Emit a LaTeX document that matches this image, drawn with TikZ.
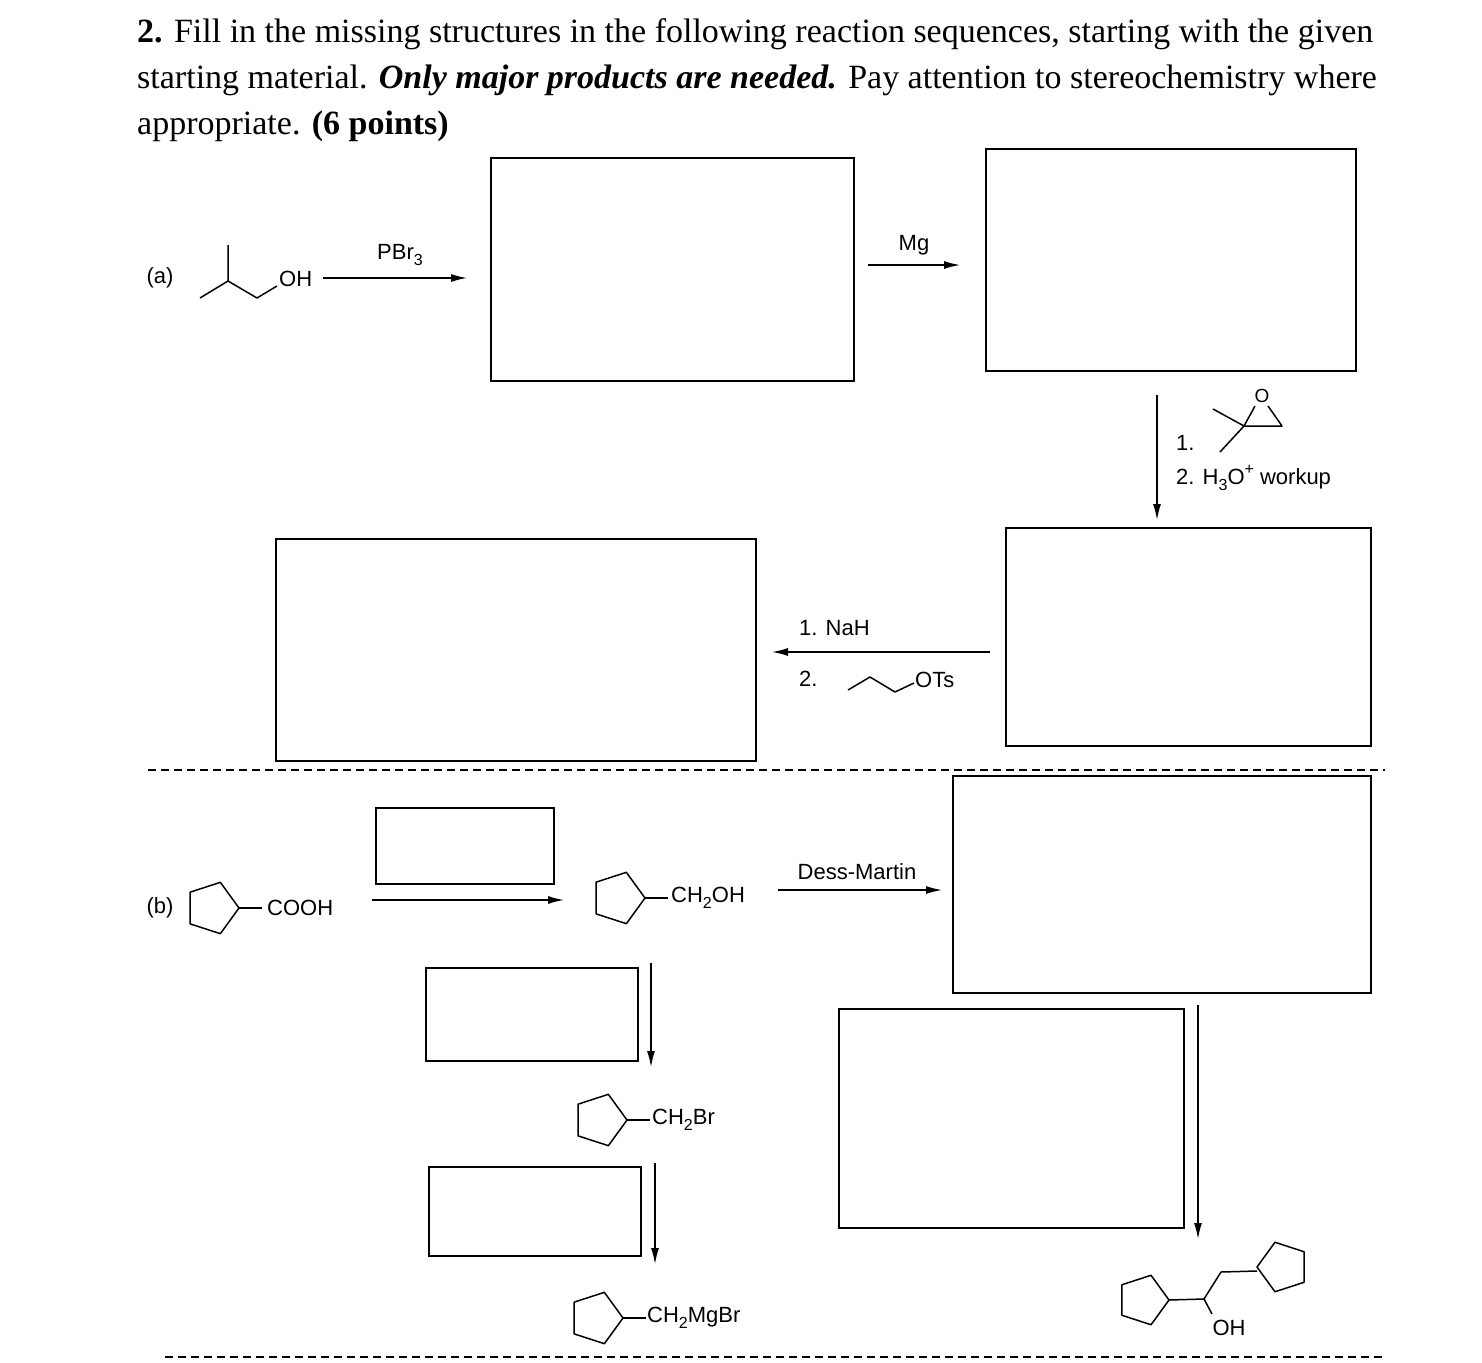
\documentclass[tikz,border=0pt]{standalone}
\usepackage{fontspec}
\usetikzlibrary{arrows.meta}
\setmainfont{Liberation Serif}
\newfontfamily\lab{Liberation Sans}
\newcommand\pentA[3]{\draw[bond,shift={(#1,#2)}] (0:#3)--(72:#3)--(144:#3)--(216:#3)--(288:#3)--cycle;}
\newcommand\pentB[3]{\draw[bond,shift={(#1,#2)}] (36:#3)--(108:#3)--(180:#3)--(252:#3)--(324:#3)--cycle;}
\newcommand\sub[1]{\raisebox{-0.25em}{\fontsize{16}{18}\selectfont #1}}
\newcommand\supr[1]{\raisebox{0.45em}{\fontsize{16}{18}\selectfont #1}}
\begin{document}
\begin{tikzpicture}[x=1pt,y=-1pt,
  box/.style={draw,line width=1.6pt},
  bond/.style={line width=1.5pt,line join=round},
  arr/.style={line width=1.4pt,-{Latex[length=16pt,width=8pt]}},
  lbl/.style={font=\lab\fontsize{22}{26}\selectfont,inner sep=1pt},
  dashline/.style={line width=1.3pt,dash pattern=on 8pt off 5pt}]
\useasboundingbox[fill=white] (0,0) rectangle (1482,1362);
\node[anchor=north west,align=left,font=\fontsize{34}{46}\selectfont,inner sep=0pt] (title) at (137,18)
{\textbf{2.} Fill in the missing structures in the following reaction sequences, starting with the given\\ starting material. \textbf{\textit{Only major products are needed.}} Pay attention to stereochemistry where\\ appropriate. \textbf{(6 points)}};
% (a)
\node[lbl] (la) at (160,278) {(a)};
\draw[bond] (200,298)--(228,281)--(228,245);
\draw[bond] (228,281)--(257,298)--(277,286);
\node[lbl,anchor=west] (oh) at (278,279) {OH};
\coordinate (p1) at (323,278); \coordinate (p2) at (467,278);
\draw[arr] (p1)--(p2);
\node[lbl] (pbr) at (400,255) {PBr\sub{3}};
\node[box,minimum width=363pt,minimum height=223pt,anchor=north west] (A1) at (490,157) {};
\coordinate (m1) at (868,265); \coordinate (m2) at (960,265);
\draw[arr] (m1)--(m2) node[lbl,midway,above=8pt] {Mg};
\node[box,minimum width=370pt,minimum height=222pt,anchor=north west] (A2) at (985,148) {};
\coordinate (d1) at (1157,395); \coordinate (d2) at (1157,520);
\draw[arr] (d1)--(d2);
\node[lbl,anchor=west] (r1) at (1175,443) {1.};
\draw[bond] (1213,409)--(1244,426)--(1220,452);
\draw[bond] (1244,426)--(1282,426)--(1268,406);
\draw[bond] (1244,426)--(1255,406);
\node[lbl,font=\lab\fontsize{19}{22}\selectfont] (eo) at (1262,396) {O};
\node[lbl,anchor=west] (r2) at (1175,478) {2. H\sub{3}O\supr{+} workup};
\node[box,minimum width=365pt,minimum height=218pt,anchor=north west] (A3) at (1005,527) {};
\coordinate (n1) at (990,652); \coordinate (n2) at (772,652);
\draw[arr] (n1)--(n2);
\node[lbl,anchor=west] (nah) at (798,628) {1. NaH};
\node[lbl,anchor=west] (n2l) at (798,679) {2.};
\draw[bond] (848,690)--(870,677)--(895,692)--(914,683);
\node[lbl,anchor=west] (ots) at (914,680) {OTs};
\node[box,minimum width=480pt,minimum height=222pt,anchor=north west] (A4) at (275,538) {};
\draw[dashline] (148,770)--(1385,770);
% (b)
\node[lbl] (lb) at (160,908) {(b)};
\pentA{212}{908}{27}
\draw[bond] (239,908)--(262,908);
\node[lbl,anchor=west] (cooh) at (266,908) {COOH};
\node[box,minimum width=178pt,minimum height=76pt,anchor=north west] (B1) at (375,807) {};
\coordinate (b1) at (372,900); \coordinate (b2) at (564,900);
\draw[arr] (b1)--(b2);
\pentA{618}{898}{27}
\draw[bond] (645,898)--(668,898);
\node[lbl,anchor=west] (ch2oh) at (670,898) {CH\sub{2}OH};
\coordinate (dm1) at (778,890); \coordinate (dm2) at (942,890);
\draw[arr] (dm1)--(dm2);
\node[lbl] (dm) at (857,872) {Dess-Martin};
\node[box,minimum width=418pt,minimum height=217pt,anchor=north west] (B2) at (952,775) {};
\node[box,minimum width=212pt,minimum height=93pt,anchor=north west] (B3) at (425,967) {};
\coordinate (e1) at (651,963); \coordinate (e2) at (651,1067);
\draw[arr] (e1)--(e2);
\pentA{600}{1120}{27}
\draw[bond] (627,1120)--(650,1120);
\node[lbl,anchor=west] (ch2br) at (651,1120) {CH\sub{2}Br};
\node[box,minimum width=212pt,minimum height=89pt,anchor=north west] (B4) at (428,1166) {};
\coordinate (f1) at (655,1163); \coordinate (f2) at (655,1264);
\draw[arr] (f1)--(f2);
\pentA{596}{1318}{27}
\draw[bond] (623,1318)--(646,1318);
\node[lbl,anchor=west] (mgbr) at (646,1318) {CH\sub{2}MgBr};
\node[box,minimum width=345pt,minimum height=219pt,anchor=north west] (B5) at (838,1008) {};
\coordinate (g1) at (1198,1005); \coordinate (g2) at (1198,1239);
\draw[arr] (g1)--(g2);
\pentA{1143}{1300}{26}
\draw[bond] (1169,1300)--(1204,1299)--(1221,1272)--(1257,1271);
\draw[bond] (1204,1299)--(1212,1314);
\pentB{1283}{1267}{26}
\node[lbl] (poh) at (1229,1328) {OH};
\draw[dashline] (165,1357)--(1385,1357);
\end{tikzpicture}
\end{document}
